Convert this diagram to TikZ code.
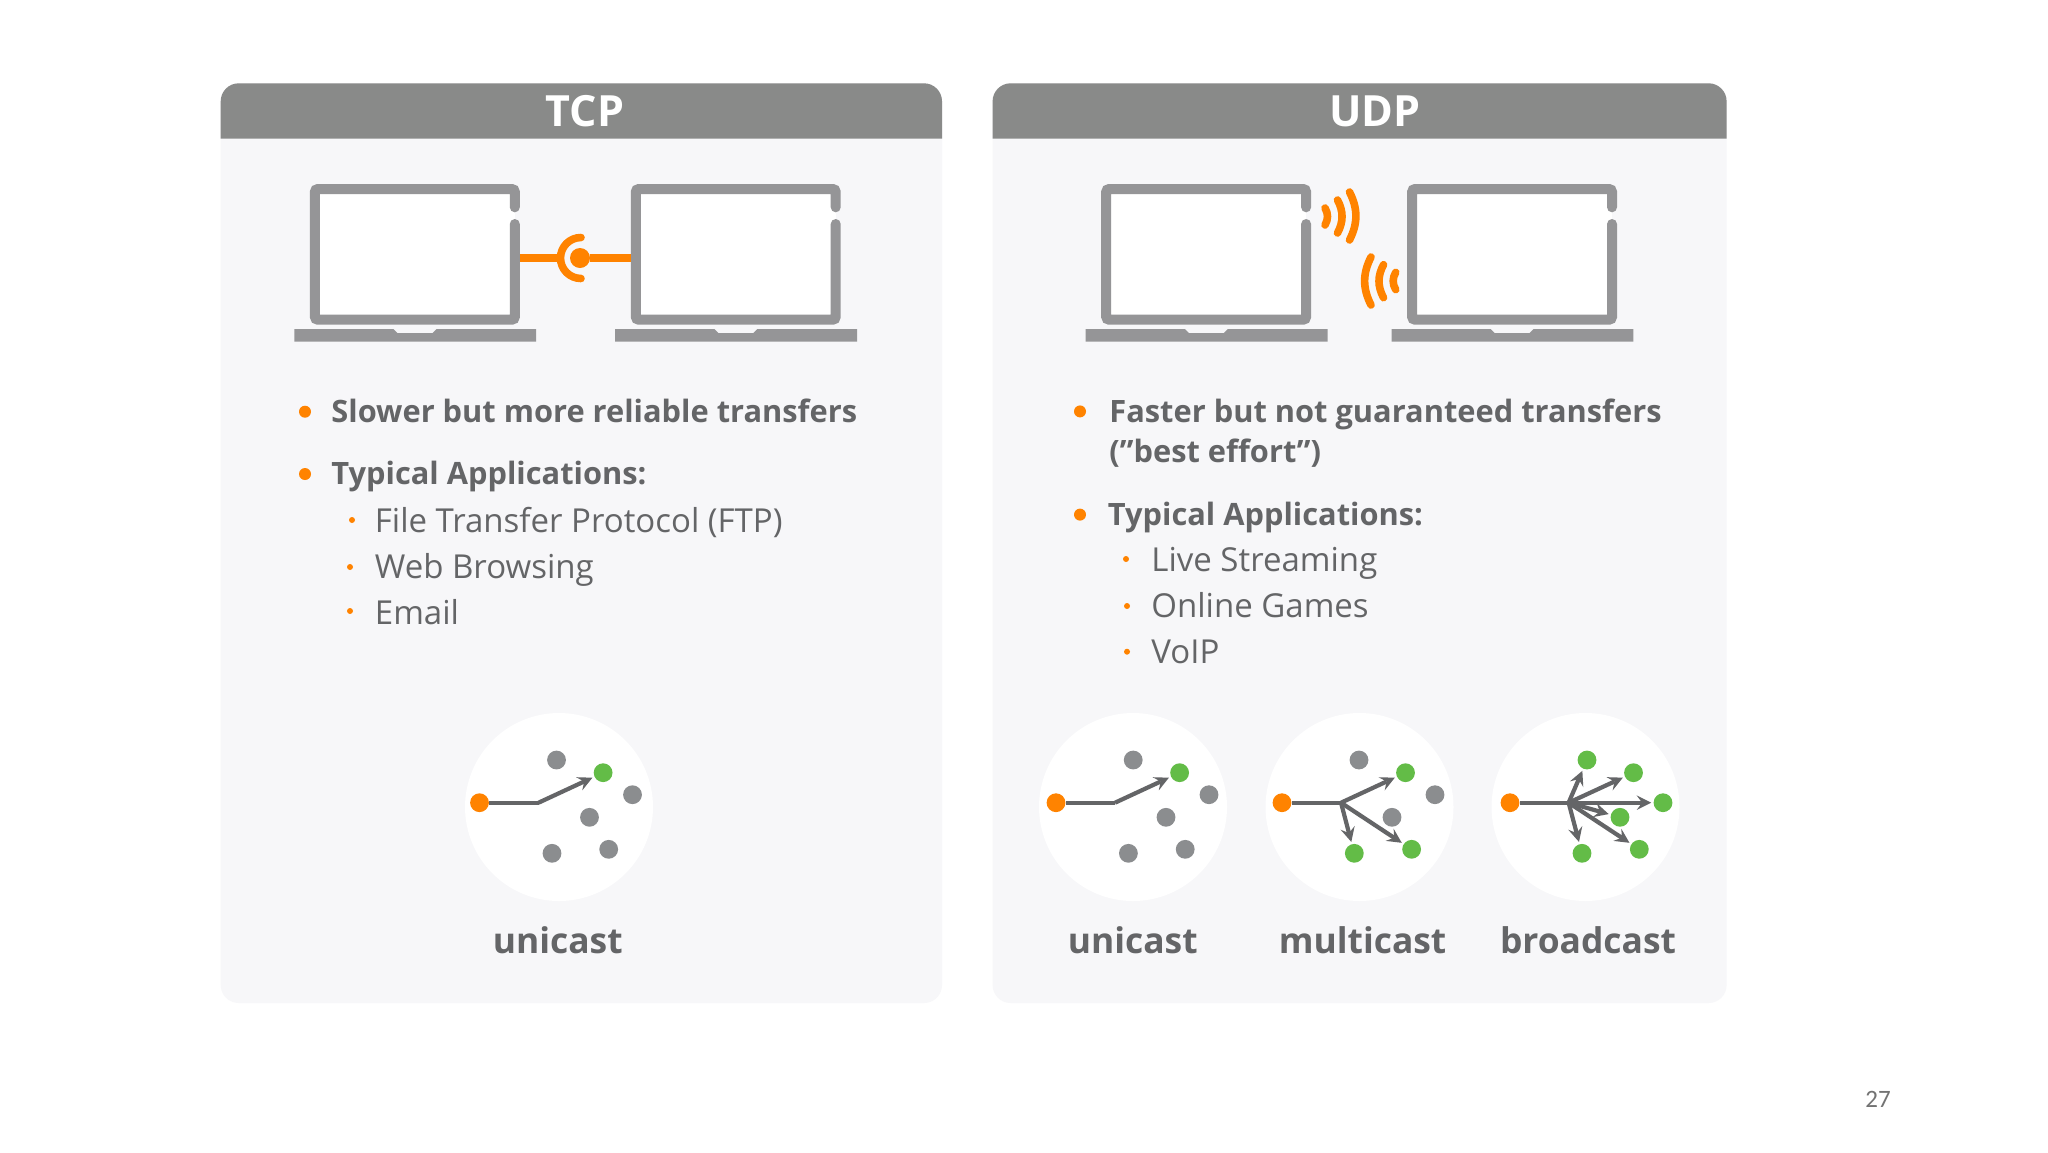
\documentclass[tikz,border=0pt]{standalone}
\usepackage{fontspec}
\setmainfont{Open Sans}
\newfontfamily\pagefont{Carlito}
\usepackage{xcolor}
\usetikzlibrary{positioning, calc}
\definecolor{panelgrey}{HTML}{F7F7F9}
\definecolor{headgrey}{HTML}{898A89}
\definecolor{laptopgrey}{HTML}{959597}
\definecolor{signalorange}{HTML}{FF8300}
\definecolor{hostgreen}{HTML}{63BC47}
\definecolor{hostgrey}{HTML}{8B8D8F}
\definecolor{textgrey}{HTML}{646567}
\tikzset{
	headtext/.style={anchor=base, inner sep=0, text=white, font=\fontsize{21.5}{21.5}\selectfont\bfseries},
	boldtext/.style={anchor=base west, inner sep=0, text=textgrey, font=\fontsize{15.4}{15.4}\selectfont\bfseries},
	subtext/.style={anchor=base west, inner sep=0, text=textgrey, font=\fontsize{16.5}{16.5}\selectfont},
	casttext/.style={anchor=base, inner sep=0, text=textgrey, font=\fontsize{17.7}{17.7}\selectfont\bfseries},
	bigdot/.style={circle, fill=signalorange, inner sep=0, minimum size=6pt},
	smalldot/.style={circle, fill=signalorange, inner sep=0, minimum size=3pt},
	disc/.style={circle, fill=white, inner sep=0, minimum size=94pt},
	srcdot/.style={circle, fill=signalorange, inner sep=0, minimum size=9.4pt},
	greydot/.style={circle, fill=hostgrey, inner sep=0, minimum size=9.4pt},
	greendot/.style={circle, fill=hostgreen, inner sep=0, minimum size=9.4pt},
	feed/.style={draw=textgrey, line width=2.1pt},
	ray/.style={draw=textgrey, line width=2.1pt, -stealth, shorten >=1pt},
	signal/.style={draw=signalorange, line width=3.8pt, line cap=round},
	link/.style={draw=signalorange, line width=4.3pt},
}
\newcommand{\laptopicon}[1]{
	\begin{scope}[shift={(#1,0)}]
		\fill[white] (315.4,189) rectangle (515.3,319.7);
		\draw[laptopgrey, line width=5pt, line cap=round, rounded corners=1.5pt] (515.3,207.3) -- (515.3,189) -- (315.4,189) -- (315.4,319.7) -- (515.3,319.7) -- (515.3,224);
		\fill[laptopgrey] (294.8,329) -- (394,329) -- (398,333) -- (433,333) -- (437,329) -- (536.7,329) -- (536.7,341.7) -- (294.8,341.7) -- cycle;
	\end{scope}
}
\begin{document}
\begin{tikzpicture}[x=0.5pt, y=-0.5pt]
	\useasboundingbox (0,0) rectangle (2048,1152);
	\fill[white] (0,0) rectangle (2048,1152);

	% panels
	\fill[panelgrey, rounded corners=9pt] (220.7,83.3) rectangle (942,1003);
	\fill[panelgrey, rounded corners=9pt] (992.6,83.3) rectangle (1726.6,1003);
	\fill[headgrey] (220.7,138.7) [rounded corners=9pt] -- (220.7,83.3) -- (942,83.3) [sharp corners] -- (942,138.7) -- cycle;
	\fill[headgrey] (992.6,138.7) [rounded corners=9pt] -- (992.6,83.3) -- (1726.6,83.3) [sharp corners] -- (1726.6,138.7) -- cycle;
	\node[headtext] (tcphead) at (585,126.5) {TCP};
	\node[headtext] (udphead) at (1375,126.5) {UDP};

	% laptops
	\laptopicon{-0.5}
	\laptopicon{320.4}
	\laptopicon{790.8}
	\laptopicon{1096.7}

	% tcp connection
	\coordinate (tcpleft) at (520,258);
	\coordinate (tcpright) at (631,258);
	\coordinate (tcparc) at (560.5,258);
	\node[circle, fill=signalorange, inner sep=0, minimum size=10pt] (tcpknob) at (580,258) {};
	\draw[link] (tcpleft) -- (tcparc);
	\draw[link] (tcpknob) -- (tcpright);
	\draw[signal] (581,237.5) arc[start angle=-90, end angle=-270, radius=20.5];

	% udp waves
	\draw[signal] (1325,208) to[bend left=30] (1325,225);
	\draw[signal] (1337.5,200) to[bend left=28] (1337.5,233);
	\draw[signal] (1349.5,192) to[bend left=27] (1349.5,240);
	\draw[signal] (1395.7,272.3) to[bend right=30] (1395.7,289.7);
	\draw[signal] (1383.5,264.7) to[bend right=28] (1383.5,297.7);
	\draw[signal] (1371,257) to[bend right=27] (1371,305);

	% tcp text
	\node[bigdot] (tb1) at (305,411.7) {};
	\node[boldtext] (tt1) at (331,422) {Slower but more reliable transfers};
	\node[bigdot] (tb2) at (305,474) {};
	\node[boldtext] (tt2) at (331,484) {Typical Applications:};
	\node[smalldot] (ts1) at (352,520) {};
	\node[subtext] (tx1) at (374.5,532.7) {File Transfer Protocol (FTP)};
	\node[smalldot] (ts2) at (350,567) {};
	\node[subtext] (tx2) at (374.5,578) {Web Browsing};
	\node[smalldot] (ts3) at (350,611) {};
	\node[subtext] (tx3) at (374.5,624) {Email};

	% udp text
	\node[bigdot] (ub1) at (1080,411.4) {};
	\node[boldtext] (ut1) at (1109,422.5) {Faster but not guaranteed transfers};
	\node[boldtext] (ut2) at (1109,462) {("best effort")};
	\node[bigdot] (ub2) at (1080,514.6) {};
	\node[boldtext] (ut3) at (1107.5,525) {Typical Applications:};
	\node[smalldot] (us1) at (1126,559) {};
	\node[subtext] (ux1) at (1151,571) {Live Streaming};
	\node[smalldot] (us2) at (1127,606) {};
	\node[subtext] (ux2) at (1151,617.5) {Online Games};
	\node[smalldot] (us3) at (1127,651.7) {};
	\node[subtext] (ux3) at (1151,663.5) {VoIP};

	% tcp unicast
	\node[disc] (tu) at (559,807) {};
	\node[srcdot] (tus) at (479.5,802.7) {};
	\foreach \n/\x/\y in {a/556.5/760, c/632.5/794.7, d/589.5/817.3, e/552/853.3, f/608.7/849.3}
		\node[greydot] (tu\n) at (\x,\y) {};
	\node[greendot] (tub) at (603.1,772.7) {};
	\coordinate (tuj) at (538.5,802.7);
	\draw[feed] (tus) -- (tuj);
	\draw[ray] (tuj) -- (tub);
	\node[casttext] (tul) at (557.7,953) {unicast};

	% udp unicast
	\node[disc] (uu) at (1133,807) {};
	\node[srcdot] (uus) at (1056,802.7) {};
	\foreach \n/\x/\y in {a/1133.2/760, c/1209/794.7, d/1166/817.3, e/1128.4/853.3, f/1185.2/849.3}
		\node[greydot] (uu\n) at (\x,\y) {};
	\node[greendot] (uub) at (1179.6,772.7) {};
	\coordinate (uuj) at (1115,802.7);
	\draw[feed] (uus) -- (uuj);
	\draw[ray] (uuj) -- (uub);
	\node[casttext] (uul) at (1132.7,953) {unicast};

	% udp multicast
	\node[disc] (um) at (1359.5,807) {};
	\node[srcdot] (ums) at (1282,802.7) {};
	\foreach \n/\x/\y in {a/1359/760, c/1435/794.7, d/1392/817.3}
		\node[greydot] (um\n) at (\x,\y) {};
	\foreach \n/\x/\y in {b/1405.5/772.7, e/1354.3/853.3, f/1411.6/849.3}
		\node[greendot] (um\n) at (\x,\y) {};
	\coordinate (umj) at (1341,802.7);
	\draw[feed] (ums) -- (umj);
	\foreach \n in {b,e,f}
		\draw[ray] (umj) -- (um\n);
	\node[casttext] (uml) at (1362.6,953) {multicast};

	% udp broadcast
	\node[disc] (ub) at (1585.5,807) {};
	\node[srcdot] (ubs) at (1510,802.7) {};
	\foreach \n/\x/\y in {a/1587/760, b/1633.5/772.7, c/1663/802.7, d/1620/817.3, e/1582/853.3, f/1639.3/849.3}
		\node[greendot] (ub\n) at (\x,\y) {};
	\coordinate (ubj) at (1568.6,802.7);
	\draw[feed] (ubs) -- (ubj);
	\foreach \n in {a,b,c,d,e,f}
		\draw[ray] (ubj) -- (ub\n);
	\node[casttext] (ubl) at (1588,953) {broadcast};

	\node[anchor=base, inner sep=0, text=black!55, font=\pagefont\fontsize{12.5}{12.5}\selectfont] (pagenum) at (1878,1107.5) {27};
\end{tikzpicture}
\end{document}
